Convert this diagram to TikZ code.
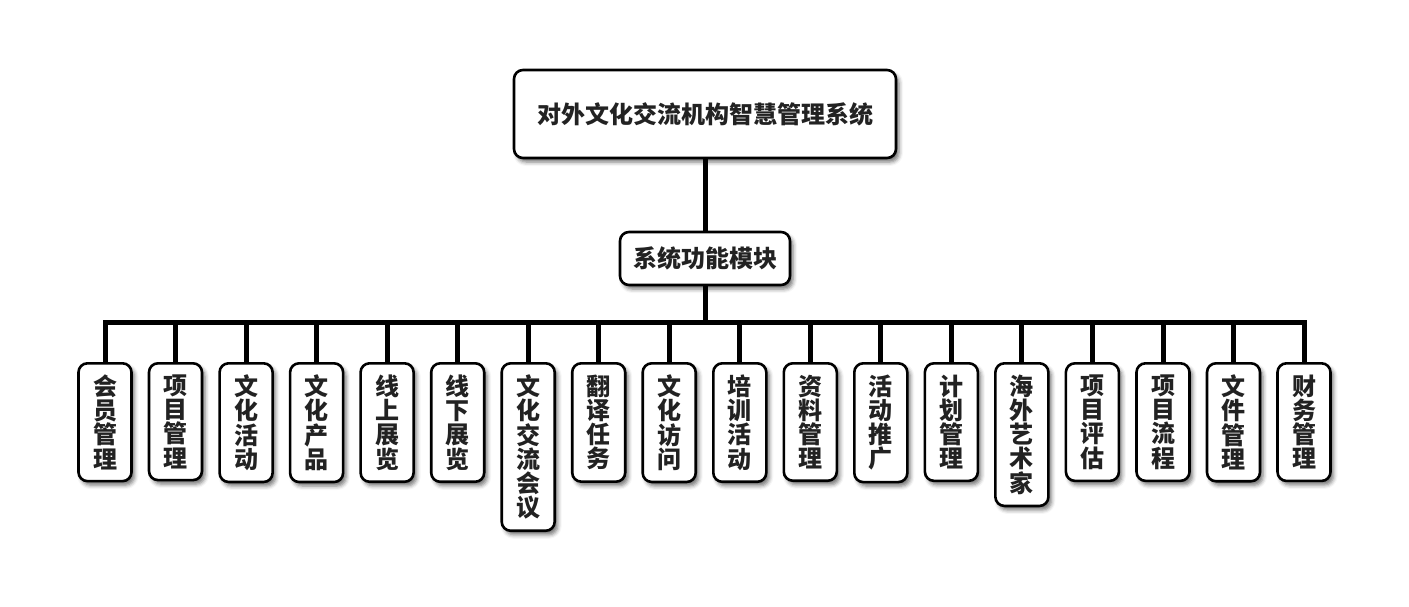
\documentclass[tikz,border=0pt]{standalone}
\usepackage{fontspec}
\newfontfamily\cjk{Noto Sans CJK SC}
\usetikzlibrary{shadows.blur,backgrounds}
\definecolor{txt}{HTML}{222222}
\tikzset{
  box/.style={draw=black, line width=2.6pt, fill=white, rounded corners=9pt,
    blur shadow={shadow xshift=3pt, shadow yshift=-4pt, shadow blur radius=4pt, shadow opacity=55},
    font=\cjk\bfseries, text=txt},
  topbox/.style={box, minimum width=382pt, minimum height=88pt, font=\cjk\bfseries\fontsize{24}{26}\selectfont},
  subbox/.style={box, minimum width=170pt, minimum height=53pt, font=\cjk\bfseries\fontsize{24}{26}\selectfont},
  leaf/.style={box, anchor=north, minimum width=53pt, inner xsep=2pt, inner ysep=11.5pt, align=center,
    font=\cjk\bfseries\fontsize{24}{24.2}\selectfont},
  conn/.style={line width=5pt, draw=black, line cap=rect}
}
\begin{document}
\begin{tikzpicture}[x=1pt,y=-1pt]
\useasboundingbox (0,0) rectangle (1409,607);
\node[topbox] (top) at (705,114) {对外文化交流机构智慧管理系统};
\node[subbox] (sub) at (705,258.5) {系统功能模块};
\coordinate (bus) at (705,322);
\node[leaf] (l0) at (105.0,362) {会\\员\\管\\理};
\node[leaf] (l1) at (175.5,362) {项\\目\\管\\理};
\node[leaf] (l2) at (246.1,362) {文\\化\\活\\动};
\node[leaf] (l3) at (316.6,362) {文\\化\\产\\品};
\node[leaf] (l4) at (387.1,362) {线\\上\\展\\览};
\node[leaf] (l5) at (457.7,362) {线\\下\\展\\览};
\node[leaf] (l6) at (528.2,362) {文\\化\\交\\流\\会\\议};
\node[leaf] (l7) at (598.7,362) {翻\\译\\任\\务};
\node[leaf] (l8) at (669.2,362) {文\\化\\访\\问};
\node[leaf] (l9) at (739.8,362) {培\\训\\活\\动};
\node[leaf] (l10) at (810.3,362) {资\\料\\管\\理};
\node[leaf] (l11) at (880.8,362) {活\\动\\推\\广};
\node[leaf] (l12) at (951.4,362) {计\\划\\管\\理};
\node[leaf] (l13) at (1021.9,362) {海\\外\\艺\\术\\家};
\node[leaf] (l14) at (1092.4,362) {项\\目\\评\\估};
\node[leaf] (l15) at (1163.0,362) {项\\目\\流\\程};
\node[leaf] (l16) at (1233.5,362) {文\\件\\管\\理};
\node[leaf] (l17) at (1304.0,362) {财\\务\\管\\理};
\begin{scope}[on background layer]
\draw[conn] (top.south) -- (sub.north);
\draw[conn] (sub.south) -- (bus);
\draw[conn] (l0.north) -- (l0.north |- bus) -- (l17.north |- bus) -- (l17.north);
\foreach \i in {1,...,16} \draw[conn] (l\i.north) -- (l\i.north |- bus);
\end{scope}
\end{tikzpicture}
\end{document}
